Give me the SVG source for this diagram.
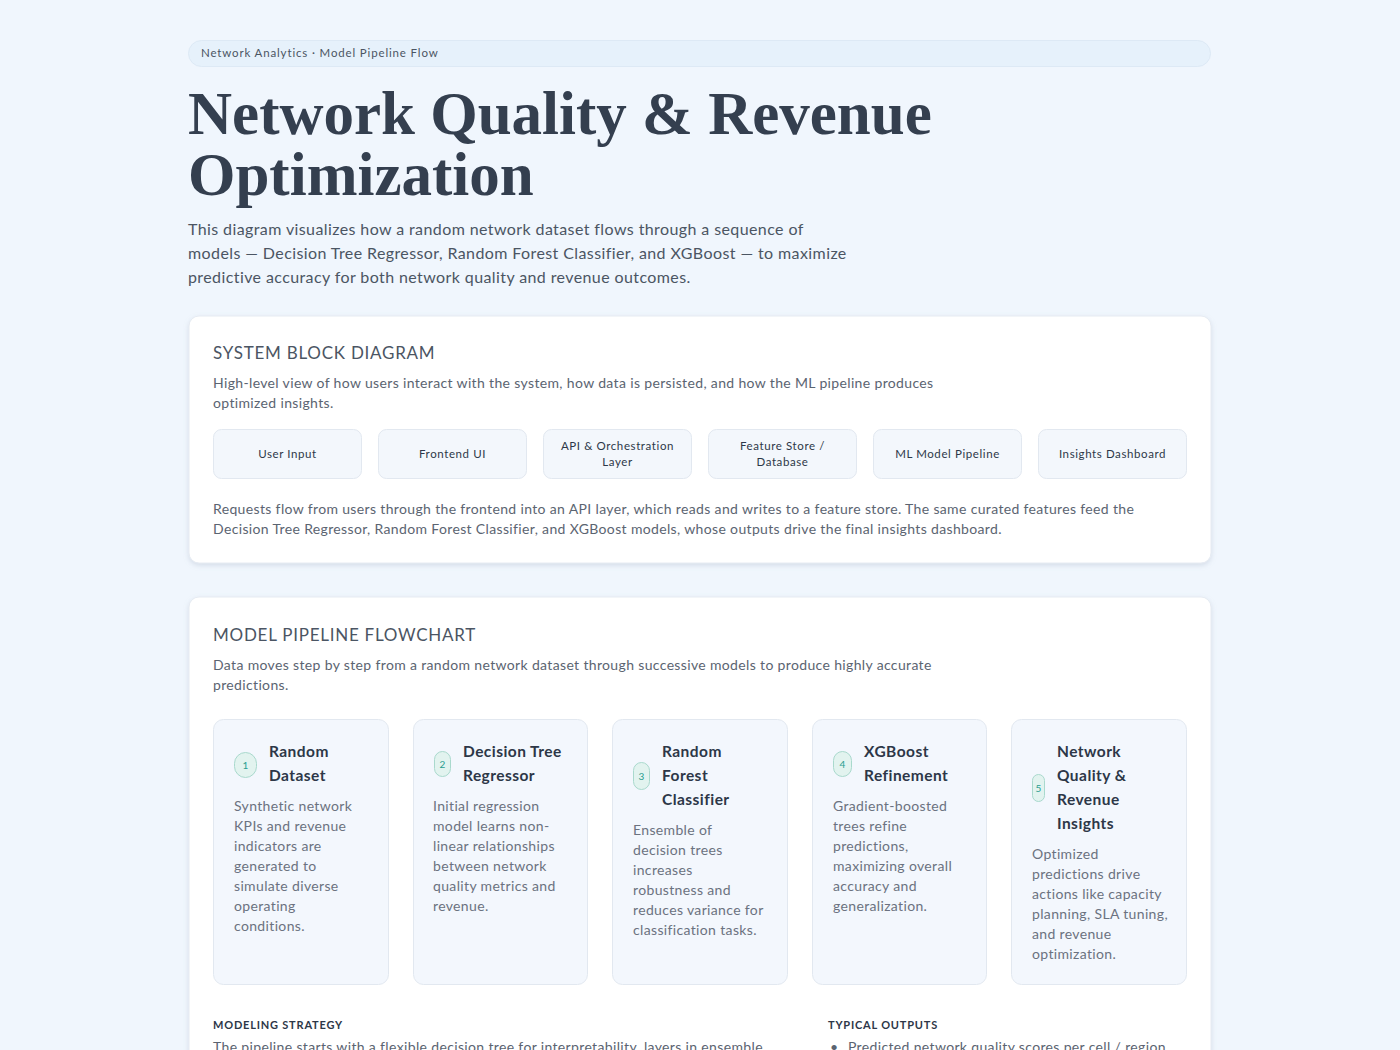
<svg xmlns="http://www.w3.org/2000/svg" width="1400" height="1050" viewBox="0 0 1400 1050">
<defs>
<style>
.sans{font-family:Lato,"Noto Sans","Liberation Sans",sans-serif}
.pill-t{font-size:11.5px;fill:#4b5563;letter-spacing:0.85px}
.title{font-family:"Liberation Serif","DejaVu Serif",serif;font-weight:700;font-size:61px;fill:#343f4f}
.lead{font-size:16px;fill:#4b5563;letter-spacing:0.4px}
.h2{font-size:17px;fill:#4b5563;letter-spacing:0.75px}
.desc{font-size:14px;fill:#5b6471;letter-spacing:0.35px}
.node rect{fill:#f3f7fc;stroke:#e2e8f0;stroke-width:1}
.node text{font-size:11.5px;fill:#2d3748;text-anchor:middle;letter-spacing:0.6px}
.step .card{fill:#f3f7fd;stroke:#e2e8f0;stroke-width:1}
.step .badge{fill:#e2f3ef;stroke:#a9d9cd;stroke-width:1}
.step .bnum{font-size:10px;fill:#2a9d8f;text-anchor:middle}
.step .st{font-size:15.5px;font-weight:700;fill:#2d3748;letter-spacing:0.45px}
.step .sb{font-size:14px;fill:#6b7280;letter-spacing:0.35px}
.h3{font-size:11px;font-weight:700;fill:#2d3748;letter-spacing:0.8px}
.conn line{stroke:url(#cg);stroke-width:1}
</style>
<linearGradient id="cg" x1="0" y1="0" x2="1" y2="0">
<stop offset="0" stop-color="#8cc5b5"/>
<stop offset="1" stop-color="#f2b27a"/>
</linearGradient>
<filter id="sh" x="-5%" y="-10%" width="110%" height="125%">
<feDropShadow dx="0" dy="2" stdDeviation="2.5" flood-color="#94a3b8" flood-opacity="0.3"/>
</filter>
</defs>
<rect x="0" y="0" width="1400" height="1050" fill="#f0f6fd"/>

<g id="header" class="sans">
<rect x="188.5" y="40.5" width="1022" height="26" rx="13" fill="#e6f1fb" stroke="#dde9f5"/>
<text class="pill-t" x="201" y="57">Network Analytics · Model Pipeline Flow</text>
<text class="title" x="188" y="134">Network Quality &amp; Revenue</text>
<text class="title" x="188" y="195">Optimization</text>
<text class="lead" x="188" y="235">This diagram visualizes how a random network dataset flows through a sequence of</text>
<text class="lead" x="188" y="259">models — Decision Tree Regressor, Random Forest Classifier, and XGBoost — to maximize</text>
<text class="lead" x="188" y="283">predictive accuracy for both network quality and revenue outcomes.</text>
</g>

<g id="block-panel" class="sans">
<rect x="189" y="316" width="1022" height="247" rx="10" fill="#ffffff" stroke="#e6ebf2" filter="url(#sh)"/>
<text class="h2" x="213" y="359">SYSTEM BLOCK DIAGRAM</text>
<text class="desc" x="213" y="388">High-level view of how users interact with the system, how data is persisted, and how the ML pipeline produces</text>
<text class="desc" x="213" y="408">optimized insights.</text>
<text class="desc" x="213" y="514">Requests flow from users through the frontend into an API layer, which reads and writes to a feature store. The same curated features feed the</text>
<text class="desc" x="213" y="534">Decision Tree Regressor, Random Forest Classifier, and XGBoost models, whose outputs drive the final insights dashboard.</text>
</g>

<g id="node-user-input" class="node sans"><rect x="213.5" y="429.5" width="148" height="49" rx="8"/><text x="287.5" y="458">User Input</text></g>
<g id="node-frontend-ui" class="node sans"><rect x="378.5" y="429.5" width="148" height="49" rx="8"/><text x="452.5" y="458">Frontend UI</text></g>
<g id="node-api" class="node sans"><rect x="543.5" y="429.5" width="148" height="49" rx="8"/><text x="617.5" y="450">API &amp; Orchestration</text><text x="617.5" y="466">Layer</text></g>
<g id="node-feature-store" class="node sans"><rect x="708.5" y="429.5" width="148" height="49" rx="8"/><text x="782.5" y="450">Feature Store /</text><text x="782.5" y="466">Database</text></g>
<g id="node-ml-pipeline" class="node sans"><rect x="873.5" y="429.5" width="148" height="49" rx="8"/><text x="947.5" y="458">ML Model Pipeline</text></g>
<g id="node-dashboard" class="node sans"><rect x="1038.5" y="429.5" width="148" height="49" rx="8"/><text x="1112.5" y="458">Insights Dashboard</text></g>

<g id="pipeline-panel" class="sans">
<rect x="189" y="597" width="1022" height="520" rx="10" fill="#ffffff" stroke="#e6ebf2" filter="url(#sh)"/>
<text class="h2" x="213" y="641">MODEL PIPELINE FLOWCHART</text>
<text class="desc" x="213" y="670">Data moves step by step from a random network dataset through successive models to produce highly accurate</text>
<text class="desc" x="213" y="690">predictions.</text>
<text class="h3" x="213" y="1029">MODELING STRATEGY</text>
<text class="desc" x="213" y="1052">The pipeline starts with a flexible decision tree for interpretability, layers in ensemble</text>
<text class="h3" x="828" y="1029">TYPICAL OUTPUTS</text>
<text class="desc" x="830" y="1052">•</text>
<text class="desc" x="848" y="1052">Predicted network quality scores per cell / region</text>
</g>

<g id="step-1" class="step sans">
<rect class="card" x="213.5" y="719.5" width="175" height="265" rx="10"/>
<rect class="badge" x="234.5" y="752.5" width="22" height="25" rx="11"/>
<text class="bnum" x="245.5" y="768.5">1</text>
<text class="st" x="269" y="757">Random</text>
<text class="st" x="269" y="781">Dataset</text>
<text class="sb" x="234" y="811">Synthetic network</text>
<text class="sb" x="234" y="831">KPIs and revenue</text>
<text class="sb" x="234" y="851">indicators are</text>
<text class="sb" x="234" y="871">generated to</text>
<text class="sb" x="234" y="891">simulate diverse</text>
<text class="sb" x="234" y="911">operating</text>
<text class="sb" x="234" y="931">conditions.</text>
</g>

<g id="step-2" class="step sans">
<rect class="card" x="413.5" y="719.5" width="174" height="265" rx="10"/>
<rect class="badge" x="434.5" y="751.5" width="16" height="25" rx="8"/>
<text class="bnum" x="442.5" y="767.5">2</text>
<text class="st" x="463" y="757">Decision Tree</text>
<text class="st" x="463" y="781">Regressor</text>
<text class="sb" x="433" y="811">Initial regression</text>
<text class="sb" x="433" y="831">model learns non-</text>
<text class="sb" x="433" y="851">linear relationships</text>
<text class="sb" x="433" y="871">between network</text>
<text class="sb" x="433" y="891">quality metrics and</text>
<text class="sb" x="433" y="911">revenue.</text>
</g>

<g id="step-3" class="step sans">
<rect class="card" x="612.5" y="719.5" width="175" height="265" rx="10"/>
<rect class="badge" x="633.5" y="762.5" width="16" height="27" rx="8"/>
<text class="bnum" x="641.5" y="779.5">3</text>
<text class="st" x="662" y="757">Random</text>
<text class="st" x="662" y="781">Forest</text>
<text class="st" x="662" y="805">Classifier</text>
<text class="sb" x="633" y="835">Ensemble of</text>
<text class="sb" x="633" y="855">decision trees</text>
<text class="sb" x="633" y="875">increases</text>
<text class="sb" x="633" y="895">robustness and</text>
<text class="sb" x="633" y="915">reduces variance for</text>
<text class="sb" x="633" y="935">classification tasks.</text>
</g>

<g id="step-4" class="step sans">
<rect class="card" x="812.5" y="719.5" width="174" height="265" rx="10"/>
<rect class="badge" x="833.5" y="751.5" width="18" height="25" rx="9"/>
<text class="bnum" x="842.5" y="767.5">4</text>
<text class="st" x="864" y="757">XGBoost</text>
<text class="st" x="864" y="781">Refinement</text>
<text class="sb" x="833" y="811">Gradient-boosted</text>
<text class="sb" x="833" y="831">trees refine</text>
<text class="sb" x="833" y="851">predictions,</text>
<text class="sb" x="833" y="871">maximizing overall</text>
<text class="sb" x="833" y="891">accuracy and</text>
<text class="sb" x="833" y="911">generalization.</text>
</g>

<g id="step-5" class="step sans">
<rect class="card" x="1011.5" y="719.5" width="175" height="265" rx="10"/>
<rect class="badge" x="1032.5" y="774.5" width="12" height="27" rx="6"/>
<text class="bnum" x="1038.5" y="791.5">5</text>
<text class="st" x="1057" y="757">Network</text>
<text class="st" x="1057" y="781">Quality &amp;</text>
<text class="st" x="1057" y="805">Revenue</text>
<text class="st" x="1057" y="829">Insights</text>
<text class="sb" x="1032" y="859">Optimized</text>
<text class="sb" x="1032" y="879">predictions drive</text>
<text class="sb" x="1032" y="899">actions like capacity</text>
<text class="sb" x="1032" y="919">planning, SLA tuning,</text>
<text class="sb" x="1032" y="939">and revenue</text>
<text class="sb" x="1032" y="959">optimization.</text>
</g>

<g id="connectors" class="conn">
<line x1="350" y1="454.5" x2="370" y2="454.5"/>
<line x1="515" y1="454.5" x2="535" y2="454.5"/>
<line x1="680" y1="454.5" x2="700" y2="454.5"/>
<line x1="845" y1="454.5" x2="865" y2="454.5"/>
<line x1="1010" y1="454.5" x2="1030" y2="454.5"/>
<line x1="369" y1="852.5" x2="410" y2="852.5"/>
<line x1="568" y1="852.5" x2="609" y2="852.5"/>
<line x1="768" y1="852.5" x2="809" y2="852.5"/>
<line x1="967" y1="852.5" x2="1008" y2="852.5"/>
</g>
</svg>
